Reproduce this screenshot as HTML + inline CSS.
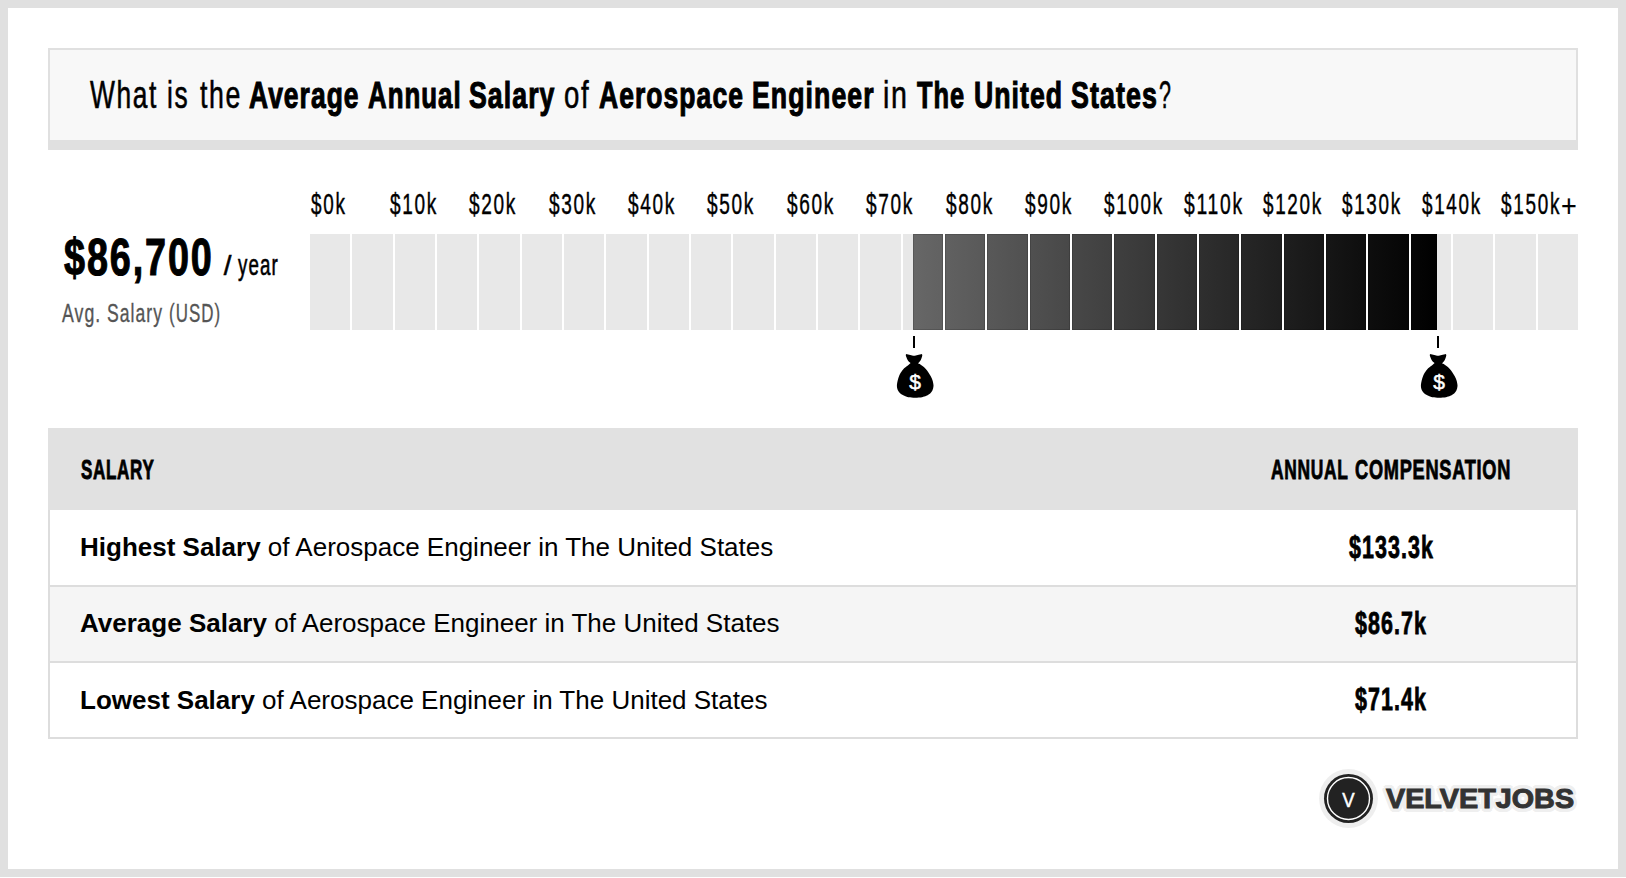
<!DOCTYPE html>
<html lang="en">
<head>
<meta charset="utf-8">
<title>Average Annual Salary of Aerospace Engineer in The United States</title>
<style>
html,body{margin:0;padding:0;background:#fff}
body{position:relative;width:1626px;height:878px;overflow:hidden;font-family:"Liberation Sans",sans-serif;color:#000}
.frame{position:absolute;left:0;top:0;width:1610px;height:861px;border:8px solid #e0e0e0}
.x{position:absolute;display:block;white-space:nowrap;transform-origin:0 0;margin:0;padding:0}
.titlebox{position:absolute;left:48px;top:48px;width:1526px;height:90px;background:#f8f8f8;border:2px solid #e0e0e0;border-bottom-width:10px}
h1,h2,p{margin:0;padding:0;font-weight:normal;font-size:inherit}
/* chart */
.track{position:absolute;left:310px;top:234px;width:1268px;height:96px;background:#e8e8e8;overflow:hidden}
.range{position:absolute;left:603px;top:0;width:524px;height:96px;background:linear-gradient(90deg,#676767 0%,#000 100%)}
.gap{position:absolute;top:0;width:2px;height:96px;background:#fff}
.seg{position:absolute;top:0;height:96px;box-shadow:inset 0 0 0 1px rgba(0,0,0,.14)}
.tick{position:absolute;top:336px;width:2px;height:12px;background:#000}
.bag{position:absolute;top:353px;width:40px;height:46px;overflow:visible}
/* table */
.thead{position:absolute;left:48px;top:428px;width:1530px;height:82px;background:#e1e1e1}
.tbody{position:absolute;left:48px;top:510px;width:1526px;height:227px;border:2px solid #ddd;border-top:0;background:#fff}
.row{position:absolute;left:0;width:1526px;border-bottom:2px solid #ddd}
.row.alt{background:#f5f5f5}
.rt{position:absolute;left:30px;font-size:26px;line-height:30px;white-space:nowrap;color:#000}
.rt b{font-weight:700}
.logo{position:absolute;left:1310px;top:764px;width:280px;height:70px}
</style>
</head>
<body>
<div class="frame"></div>

<header class="titlebox"></header>
<h1>
<span class="x t" style="left:90.10px;top:76.11px;font-size:38.5px;line-height:38.5px;font-weight:400;color:#000;letter-spacing:2.31px;-webkit-text-stroke:0.6px #000;transform:scaleX(0.6849)">What</span>
<span class="x t" style="left:167.23px;top:76.11px;font-size:38.5px;line-height:38.5px;font-weight:400;color:#000;letter-spacing:2.31px;-webkit-text-stroke:0.6px #000;transform:scaleX(0.6849)">is</span>
<span class="x t" style="left:199.60px;top:76.11px;font-size:38.5px;line-height:38.5px;font-weight:400;color:#000;letter-spacing:2.31px;-webkit-text-stroke:0.6px #000;transform:scaleX(0.6945)">the</span>
<span class="x t" style="left:248.60px;top:76.53px;font-size:37.3px;line-height:37.3px;font-weight:700;color:#000;letter-spacing:1.49px;-webkit-text-stroke:1.1px #000;transform:scaleX(0.7077)">Average</span>
<span class="x t" style="left:367.90px;top:76.53px;font-size:37.3px;line-height:37.3px;font-weight:700;color:#000;letter-spacing:1.49px;-webkit-text-stroke:1.1px #000;transform:scaleX(0.6921)">Annual</span>
<span class="x t" style="left:469.28px;top:76.53px;font-size:37.3px;line-height:37.3px;font-weight:700;color:#000;letter-spacing:1.49px;-webkit-text-stroke:1.1px #000;transform:scaleX(0.7153)">Salary</span>
<span class="x t" style="left:564.49px;top:76.11px;font-size:38.5px;line-height:38.5px;font-weight:400;color:#000;letter-spacing:2.31px;-webkit-text-stroke:0.6px #000;transform:scaleX(0.7147)">of</span>
<span class="x t" style="left:598.50px;top:76.53px;font-size:37.3px;line-height:37.3px;font-weight:700;color:#000;letter-spacing:1.49px;-webkit-text-stroke:1.1px #000;transform:scaleX(0.7102)">Aerospace</span>
<span class="x t" style="left:751.97px;top:76.53px;font-size:37.3px;line-height:37.3px;font-weight:700;color:#000;letter-spacing:1.49px;-webkit-text-stroke:1.1px #000;transform:scaleX(0.7152)">Engineer</span>
<span class="x t" style="left:883.01px;top:76.11px;font-size:38.5px;line-height:38.5px;font-weight:400;color:#000;letter-spacing:2.31px;-webkit-text-stroke:0.6px #000;transform:scaleX(0.7429)">in</span>
<span class="x t" style="left:916.90px;top:76.53px;font-size:37.3px;line-height:37.3px;font-weight:700;color:#000;letter-spacing:1.49px;-webkit-text-stroke:1.1px #000;transform:scaleX(0.6813)">The</span>
<span class="x t" style="left:973.97px;top:76.53px;font-size:37.3px;line-height:37.3px;font-weight:700;color:#000;letter-spacing:1.49px;-webkit-text-stroke:1.1px #000;transform:scaleX(0.7134)">United</span>
<span class="x t" style="left:1070.68px;top:76.53px;font-size:37.3px;line-height:37.3px;font-weight:700;color:#000;letter-spacing:1.49px;-webkit-text-stroke:1.1px #000;transform:scaleX(0.7190)">States</span>
<span class="x t" style="left:1158.64px;top:76.11px;font-size:38.5px;line-height:38.5px;font-weight:400;color:#000;letter-spacing:2.31px;-webkit-text-stroke:0.6px #000;transform:scaleX(0.5579)">?</span>
</h1>

<section>
<div>
<span class="x b" style="left:63.50px;top:230.98px;font-size:52px;line-height:52px;font-weight:700;color:#000;letter-spacing:2.60px;-webkit-text-stroke:1.1px #000;transform:scaleX(0.7260)">$86,700</span>
<span class="x y" style="left:223.70px;top:252.02px;font-size:27.5px;line-height:27.5px;font-weight:400;color:#000;letter-spacing:1.65px;-webkit-text-stroke:0.6px #000;transform:scaleX(1.0000)">/</span>
<span class="x y" style="left:237.90px;top:251.15px;font-size:29px;line-height:29px;font-weight:400;color:#000;letter-spacing:1.74px;-webkit-text-stroke:0.6px #000;transform:scaleX(0.6454)">year</span>
<span class="x a" style="left:62.30px;top:300.84px;font-size:25px;line-height:25px;font-weight:400;color:#555;letter-spacing:1.50px;-webkit-text-stroke:0.35px #555;transform:scaleX(0.7079)">Avg.</span>
<span class="x a" style="left:106.50px;top:300.84px;font-size:25px;line-height:25px;font-weight:400;color:#555;letter-spacing:1.50px;-webkit-text-stroke:0.35px #555;transform:scaleX(0.7025)">Salary</span>
<span class="x a" style="left:168.92px;top:300.84px;font-size:25px;line-height:25px;font-weight:400;color:#555;letter-spacing:1.50px;-webkit-text-stroke:0.35px #555;transform:scaleX(0.6771)">(USD)</span>
</div>
<div>
<span class="x l" style="left:310.50px;top:189.10px;font-size:30px;line-height:30px;font-weight:400;color:#000;letter-spacing:2.70px;-webkit-text-stroke:0.45px #000;transform:scaleX(0.6299)">$0k</span>
<span class="x l" style="left:390.30px;top:189.10px;font-size:30px;line-height:30px;font-weight:400;color:#000;letter-spacing:2.70px;-webkit-text-stroke:0.45px #000;transform:scaleX(0.6338)">$10k</span>
<span class="x l" style="left:469.30px;top:189.10px;font-size:30px;line-height:30px;font-weight:400;color:#000;letter-spacing:2.70px;-webkit-text-stroke:0.45px #000;transform:scaleX(0.6338)">$20k</span>
<span class="x l" style="left:548.70px;top:189.10px;font-size:30px;line-height:30px;font-weight:400;color:#000;letter-spacing:2.70px;-webkit-text-stroke:0.45px #000;transform:scaleX(0.6338)">$30k</span>
<span class="x l" style="left:628.00px;top:189.10px;font-size:30px;line-height:30px;font-weight:400;color:#000;letter-spacing:2.70px;-webkit-text-stroke:0.45px #000;transform:scaleX(0.6338)">$40k</span>
<span class="x l" style="left:707.40px;top:189.10px;font-size:30px;line-height:30px;font-weight:400;color:#000;letter-spacing:2.70px;-webkit-text-stroke:0.45px #000;transform:scaleX(0.6338)">$50k</span>
<span class="x l" style="left:786.80px;top:189.10px;font-size:30px;line-height:30px;font-weight:400;color:#000;letter-spacing:2.70px;-webkit-text-stroke:0.45px #000;transform:scaleX(0.6338)">$60k</span>
<span class="x l" style="left:866.20px;top:189.10px;font-size:30px;line-height:30px;font-weight:400;color:#000;letter-spacing:2.70px;-webkit-text-stroke:0.45px #000;transform:scaleX(0.6338)">$70k</span>
<span class="x l" style="left:945.50px;top:189.10px;font-size:30px;line-height:30px;font-weight:400;color:#000;letter-spacing:2.70px;-webkit-text-stroke:0.45px #000;transform:scaleX(0.6338)">$80k</span>
<span class="x l" style="left:1024.90px;top:189.10px;font-size:30px;line-height:30px;font-weight:400;color:#000;letter-spacing:2.70px;-webkit-text-stroke:0.45px #000;transform:scaleX(0.6338)">$90k</span>
<span class="x l" style="left:1104.30px;top:189.10px;font-size:30px;line-height:30px;font-weight:400;color:#000;letter-spacing:2.70px;-webkit-text-stroke:0.45px #000;transform:scaleX(0.6276)">$100k</span>
<span class="x l" style="left:1183.70px;top:189.10px;font-size:30px;line-height:30px;font-weight:400;color:#000;letter-spacing:2.70px;-webkit-text-stroke:0.45px #000;transform:scaleX(0.6429)">$110k</span>
<span class="x l" style="left:1263.00px;top:189.10px;font-size:30px;line-height:30px;font-weight:400;color:#000;letter-spacing:2.70px;-webkit-text-stroke:0.45px #000;transform:scaleX(0.6286)">$120k</span>
<span class="x l" style="left:1342.40px;top:189.10px;font-size:30px;line-height:30px;font-weight:400;color:#000;letter-spacing:2.70px;-webkit-text-stroke:0.45px #000;transform:scaleX(0.6286)">$130k</span>
<span class="x l" style="left:1421.80px;top:189.10px;font-size:30px;line-height:30px;font-weight:400;color:#000;letter-spacing:2.70px;-webkit-text-stroke:0.45px #000;transform:scaleX(0.6286)">$140k</span>
<span class="x l" style="left:1501.00px;top:189.10px;font-size:30px;line-height:30px;font-weight:400;color:#000;letter-spacing:2.70px;-webkit-text-stroke:0.45px #000;transform:scaleX(0.6308)">$150k</span>
<span class="x l" style="left:1561.02px;top:190.70px;font-size:30.6px;line-height:30.6px;font-weight:400;color:#000;letter-spacing:2.75px;-webkit-text-stroke:0.2px #000;transform:scaleX(0.8812)">+</span>
</div>
<div class="track">
  <div class="range"></div>
  <i class="gap" style="left:40px"></i><i class="gap" style="left:83px"></i><i class="gap" style="left:125px"></i><i class="gap" style="left:167px"></i><i class="gap" style="left:210px"></i><i class="gap" style="left:252px"></i><i class="gap" style="left:294px"></i><i class="gap" style="left:337px"></i><i class="gap" style="left:379px"></i><i class="gap" style="left:421px"></i><i class="gap" style="left:464px"></i><i class="gap" style="left:506px"></i><i class="gap" style="left:548px"></i><i class="gap" style="left:591px"></i><i class="gap" style="left:633px"></i><i class="gap" style="left:675px"></i><i class="gap" style="left:718px"></i><i class="gap" style="left:760px"></i><i class="gap" style="left:802px"></i><i class="gap" style="left:845px"></i><i class="gap" style="left:887px"></i><i class="gap" style="left:929px"></i><i class="gap" style="left:972px"></i><i class="gap" style="left:1014px"></i><i class="gap" style="left:1056px"></i><i class="gap" style="left:1099px"></i><i class="gap" style="left:1141px"></i><i class="gap" style="left:1183px"></i><i class="gap" style="left:1226px"></i><i class="seg" style="left:603px;width:30px"></i><i class="seg" style="left:635px;width:40px"></i><i class="seg" style="left:677px;width:41px"></i><i class="seg" style="left:720px;width:40px"></i><i class="seg" style="left:762px;width:40px"></i><i class="seg" style="left:804px;width:41px"></i><i class="seg" style="left:847px;width:40px"></i><i class="seg" style="left:889px;width:40px"></i><i class="seg" style="left:931px;width:41px"></i><i class="seg" style="left:974px;width:40px"></i><i class="seg" style="left:1016px;width:40px"></i><i class="seg" style="left:1058px;width:41px"></i><i class="seg" style="left:1101px;width:26px"></i>
</div>
<i class="tick" style="left:913px"></i>
<i class="tick" style="left:1437px"></i>
<svg class="bag" style="left:896px" viewBox="0 0 40 46"><path d="M10.30,1.00C10.97,1.15 13.02,1.59 14.30,1.90C15.58,2.21 16.77,2.87 18.00,2.87C19.23,2.87 20.40,2.21 21.70,1.90C23.00,1.59 25.12,1.15 25.80,1.00C25.88,1.20 26.37,1.46 26.30,2.20C26.23,2.94 25.78,4.45 25.40,5.45C25.02,6.45 24.57,7.40 24.00,8.20C23.43,9.00 22.33,9.91 22.00,10.25C22.40,10.46 23.53,10.97 24.40,11.50C25.27,12.03 26.27,12.67 27.20,13.45C28.13,14.23 29.18,15.27 30.00,16.20C30.82,17.12 31.33,17.87 32.10,19.00C32.87,20.13 33.88,21.67 34.60,23.00C35.32,24.33 35.99,25.93 36.40,27.00C36.81,28.07 36.87,28.38 37.05,29.40C37.23,30.42 37.61,31.77 37.50,33.10C37.39,34.43 37.08,36.07 36.40,37.40C35.72,38.73 34.42,40.19 33.40,41.10C32.38,42.01 31.53,42.33 30.30,42.85C29.07,43.37 27.85,43.89 26.00,44.20C24.15,44.51 21.46,44.70 19.20,44.70C16.94,44.70 14.08,44.43 12.45,44.20C10.82,43.97 10.43,43.72 9.40,43.30C8.38,42.88 7.23,42.27 6.30,41.70C5.37,41.13 4.56,40.62 3.84,39.90C3.12,39.18 2.43,38.12 2.00,37.40C1.57,36.68 1.44,36.42 1.26,35.60C1.08,34.78 0.83,33.83 0.90,32.50C0.97,31.17 1.32,29.23 1.70,27.60C2.08,25.97 2.64,24.08 3.20,22.70C3.76,21.32 4.25,20.53 5.07,19.30C5.90,18.07 6.92,16.53 8.15,15.30C9.38,14.07 11.38,12.77 12.45,11.90C13.52,11.03 14.24,10.38 14.60,10.07C14.24,9.76 13.07,8.97 12.45,8.20C11.83,7.43 11.34,6.43 10.90,5.45C10.46,4.47 9.90,3.04 9.80,2.30C9.70,1.56 10.22,1.22 10.30,1.00Z" fill="#000"/><text x="19.1" y="35.6" text-anchor="middle" font-family="Liberation Sans, sans-serif" font-size="21" fill="#fff" stroke="#fff" stroke-width="0.5">$</text></svg>
<svg class="bag" style="left:1419.6px" viewBox="0 0 40 46"><path d="M10.30,1.00C10.97,1.15 13.02,1.59 14.30,1.90C15.58,2.21 16.77,2.87 18.00,2.87C19.23,2.87 20.40,2.21 21.70,1.90C23.00,1.59 25.12,1.15 25.80,1.00C25.88,1.20 26.37,1.46 26.30,2.20C26.23,2.94 25.78,4.45 25.40,5.45C25.02,6.45 24.57,7.40 24.00,8.20C23.43,9.00 22.33,9.91 22.00,10.25C22.40,10.46 23.53,10.97 24.40,11.50C25.27,12.03 26.27,12.67 27.20,13.45C28.13,14.23 29.18,15.27 30.00,16.20C30.82,17.12 31.33,17.87 32.10,19.00C32.87,20.13 33.88,21.67 34.60,23.00C35.32,24.33 35.99,25.93 36.40,27.00C36.81,28.07 36.87,28.38 37.05,29.40C37.23,30.42 37.61,31.77 37.50,33.10C37.39,34.43 37.08,36.07 36.40,37.40C35.72,38.73 34.42,40.19 33.40,41.10C32.38,42.01 31.53,42.33 30.30,42.85C29.07,43.37 27.85,43.89 26.00,44.20C24.15,44.51 21.46,44.70 19.20,44.70C16.94,44.70 14.08,44.43 12.45,44.20C10.82,43.97 10.43,43.72 9.40,43.30C8.38,42.88 7.23,42.27 6.30,41.70C5.37,41.13 4.56,40.62 3.84,39.90C3.12,39.18 2.43,38.12 2.00,37.40C1.57,36.68 1.44,36.42 1.26,35.60C1.08,34.78 0.83,33.83 0.90,32.50C0.97,31.17 1.32,29.23 1.70,27.60C2.08,25.97 2.64,24.08 3.20,22.70C3.76,21.32 4.25,20.53 5.07,19.30C5.90,18.07 6.92,16.53 8.15,15.30C9.38,14.07 11.38,12.77 12.45,11.90C13.52,11.03 14.24,10.38 14.60,10.07C14.24,9.76 13.07,8.97 12.45,8.20C11.83,7.43 11.34,6.43 10.90,5.45C10.46,4.47 9.90,3.04 9.80,2.30C9.70,1.56 10.22,1.22 10.30,1.00Z" fill="#000"/><text x="19.1" y="35.6" text-anchor="middle" font-family="Liberation Sans, sans-serif" font-size="21" fill="#fff" stroke="#fff" stroke-width="0.5">$</text></svg>
</section>

<section>
<div class="thead"></div>
<div>
<span class="x h" style="left:80.60px;top:455.46px;font-size:28.4px;line-height:28.4px;font-weight:700;color:#000;letter-spacing:1.14px;-webkit-text-stroke:0.9px #000;transform:scaleX(0.5996)">SALARY</span>
<span class="x h" style="left:1271.20px;top:455.46px;font-size:28.4px;line-height:28.4px;font-weight:700;color:#000;letter-spacing:1.14px;-webkit-text-stroke:0.9px #000;transform:scaleX(0.6119)">ANNUAL</span>
<span class="x h" style="left:1355.46px;top:455.46px;font-size:28.4px;line-height:28.4px;font-weight:700;color:#000;letter-spacing:1.14px;-webkit-text-stroke:0.9px #000;transform:scaleX(0.6411)">COMPENSATION</span>
</div>
<div class="tbody">
  <div class="row" style="top:0;height:75px"><span class="rt" style="top:22px"><b>Highest Salary</b> of Aerospace Engineer in The United States</span></div>
  <div class="row alt" style="top:77px;height:74px"><span class="rt" style="top:21px"><b>Average Salary</b> of Aerospace Engineer in The United States</span></div>
  <div class="row" style="top:153px;height:74px;border-bottom:0"><span class="rt" style="top:22px"><b>Lowest Salary</b> of Aerospace Engineer in The United States</span></div>
</div>
<div>
<span class="x v" style="left:1348.60px;top:531.60px;font-size:30.6px;line-height:30.6px;font-weight:700;color:#000;letter-spacing:1.53px;-webkit-text-stroke:0.8px #000;transform:scaleX(0.7014)">$133.3k</span>
<span class="x v" style="left:1355.10px;top:607.60px;font-size:30.6px;line-height:30.6px;font-weight:700;color:#000;letter-spacing:1.53px;-webkit-text-stroke:0.8px #000;transform:scaleX(0.7015)">$86.7k</span>
<span class="x v" style="left:1355.10px;top:683.60px;font-size:30.6px;line-height:30.6px;font-weight:700;color:#000;letter-spacing:1.53px;-webkit-text-stroke:0.8px #000;transform:scaleX(0.7015)">$71.4k</span>
</div>
</section>

<footer>
<svg class="logo" viewBox="0 0 280 70">
  <circle cx="38.5" cy="34.5" r="29.4" fill="#eee"/>
  <circle cx="38.5" cy="34.5" r="24.5" fill="#222"/>
  <circle cx="38.5" cy="34.5" r="21" fill="none" stroke="#fff" stroke-width="1.4"/>
  <text transform="translate(38.4 42.8) scale(.9 1)" text-anchor="middle" font-family="Liberation Sans, sans-serif" font-size="20.6" fill="#fff" stroke="#fff" stroke-width="0.5">V</text>
</svg>
<span class="x g" style="left:1385.50px;top:785.02px;font-size:27.5px;line-height:27.5px;font-weight:700;color:#333;letter-spacing:0.00px;-webkit-text-stroke:1.0px #333;transform:scaleX(1.0459);text-shadow:3.80px 0.00px 0.6px #efefef,3.51px 1.45px 0.6px #efefef,2.69px 2.69px 0.6px #efefef,1.45px 3.51px 0.6px #efefef,0.00px 3.80px 0.6px #efefef,-1.45px 3.51px 0.6px #efefef,-2.69px 2.69px 0.6px #efefef,-3.51px 1.45px 0.6px #efefef,-3.80px 0.00px 0.6px #efefef,-3.51px -1.45px 0.6px #efefef,-2.69px -2.69px 0.6px #efefef,-1.45px -3.51px 0.6px #efefef,-0.00px -3.80px 0.6px #efefef,1.45px -3.51px 0.6px #efefef,2.69px -2.69px 0.6px #efefef,3.51px -1.45px 0.6px #efefef">VELVETJOBS</span>
</footer>
</body>
</html>
